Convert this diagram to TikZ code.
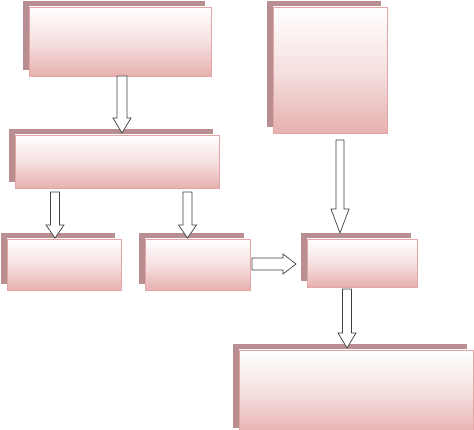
\documentclass[tikz,border=0pt]{standalone}
\usetikzlibrary{shadows}
\definecolor{shadowc}{RGB}{185,142,144}
\definecolor{pinkb}{RGB}{231,176,176}
\definecolor{pinkm}{RGB}{246,224,224}
\definecolor{edgec}{RGB}{226,166,166}
\tikzset{
  box/.style={draw=edgec, line width=0.8pt, anchor=north west, inner sep=0pt, outer sep=0pt,
    top color=white, bottom color=pinkb, middle color=pinkm,
    general shadow={fill=shadowc, shadow xshift=-6pt, shadow yshift=6pt}},
  blk/.style={draw=black!75, fill=white, line width=0.7pt, line join=miter}
}
\newcommand\varr[6]{% x, ytop, yhead, ytip, shaft half, head half
  \draw[blk] ({#1-#5},#2) -- ({#1+#5},#2) -- ({#1+#5},#3) -- ({#1+#6},#3) -- (#1,#4)
    -- ({#1-#6},#3) -- ({#1-#5},#3) -- cycle;}
\newcommand\harr[6]{% y, xleft, xhead, xtip, shaft half, head half
  \draw[blk] (#2,{#1-#5}) -- (#2,{#1+#5}) -- (#3,{#1+#5}) -- (#3,{#1+#6}) -- (#4,#1)
    -- (#3,{#1-#6}) -- (#3,{#1-#5}) -- cycle;}
\begin{document}
\begin{tikzpicture}[x=1pt,y=-1pt]
\useasboundingbox (0,0) rectangle (474,430);
\fill[white] (0,0) rectangle (474,430);
\node[box, minimum width=182pt, minimum height=69pt] (b1) at (29,7) {};
\node[box, minimum width=204pt, minimum height=53pt] (b2) at (15,135) {};
\node[box, minimum width=114pt, minimum height=51pt] (b3) at (7,239) {};
\node[box, minimum width=105pt, minimum height=51pt] (b4) at (145,239) {};
\node[box, minimum width=110pt, minimum height=48pt] (b5) at (307,239) {};
\node[box, minimum width=114pt, minimum height=126pt] (b6) at (273,7) {};
\node[box, minimum width=234pt, minimum height=84pt] (b7) at (239,350) {};
% arrows
\varr{122}{76}{118}{133}{5}{9}
\varr{55}{192}{225}{238}{4.5}{9}
\varr{187.5}{192}{225}{238}{4.5}{9}
\varr{340}{140}{209}{233}{4}{9}
\varr{347}{289}{333}{348}{4.5}{9}
\harr{264}{252}{283}{296}{6}{10}
\end{tikzpicture}
\end{document}
